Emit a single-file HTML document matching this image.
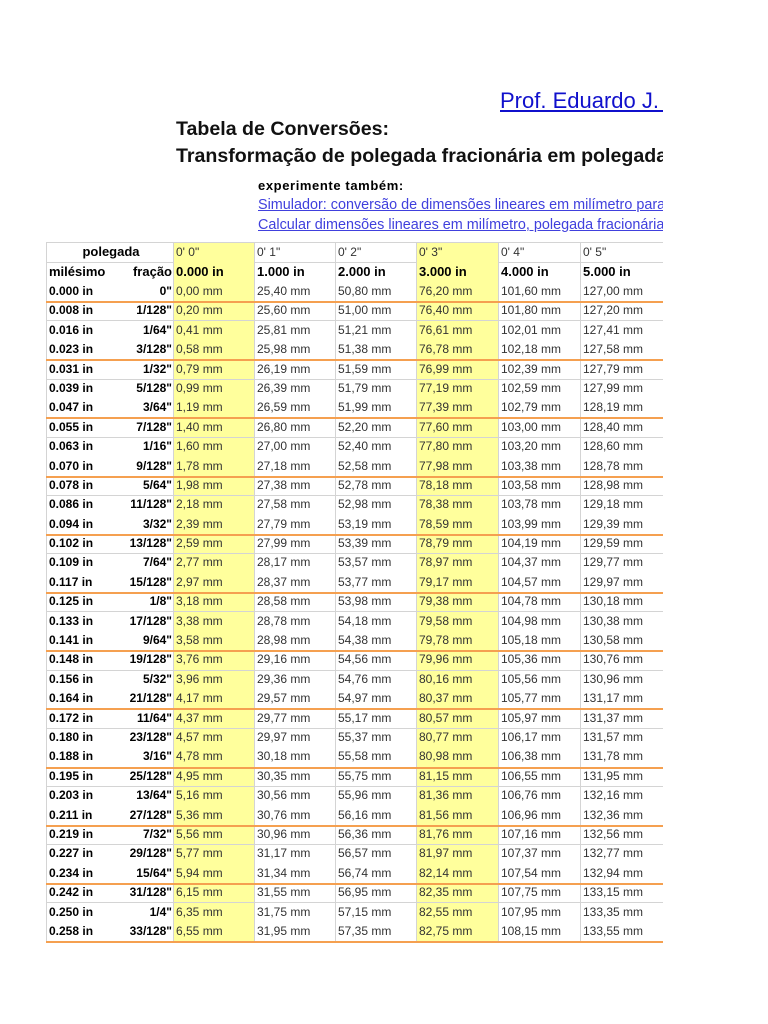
<!DOCTYPE html>
<html><head><meta charset="utf-8"><style>
body{margin:0;background:#fff;width:768px;height:1024px;position:relative;overflow:hidden;font-family:"Liberation Sans",sans-serif}
a{color:#1a1acc;text-decoration:underline}
.prof{position:absolute;left:500px;top:88px;font-size:22px;color:#1010cc;white-space:nowrap}
.t{position:absolute;left:176px;font-size:19.6px;font-weight:bold;color:#111;white-space:nowrap}
.exp{position:absolute;left:258px;top:178px;font-size:13px;font-weight:bold;letter-spacing:0.6px}
.lk{position:absolute;left:258px;font-size:14.4px;white-space:nowrap;color:#4040dd}
.clip{position:absolute;left:0;top:0;width:663px;height:260px;overflow:hidden}
#g{position:absolute;left:46px;top:242px;width:617px;overflow:hidden;display:grid;
grid-template-columns:67px 60px 81px 81px 81px 82px 82px 83px;
grid-template-rows:20px 20px repeat(34,19.4px);font-size:12px;color:#333}
#g div{box-sizing:border-box;border-left:1px solid #d4d4d4;padding-left:2px;white-space:nowrap;line-height:19px;overflow:hidden}
#g div.y{background:#ffff9c}
#g div.b{font-weight:bold;color:#000}
#g div.r{text-align:right;padding-right:1px;border-left:none}
#g div.h{border-top:1px solid #d4d4d4;line-height:18px}
#g div.p{grid-column:span 2;text-align:center}
#g div.hb{font-size:13px}
.o{position:absolute;left:46px;width:617px;height:2px;background:#f5a050}
.gl{position:absolute;left:46px;width:617px;height:1px;background:#d4d4d4}
</style></head><body>
<div class="clip">
<div class="prof"><a style="color:#1010cc">Prof. Eduardo J. Stefanelli</a></div>
<div class="t" style="top:118px">Tabela de Conversões:</div>
<div class="t" style="top:145px">Transformação de polegada fracionária em polegada milésimo e milímetro</div>
<div class="exp">experimente também:</div>
<div class="lk" style="top:197px"><a style="color:#4040dd">Simulador: conversão de dimensões lineares em milímetro para polegada</a></div>
<div class="lk" style="top:217px"><a style="color:#4040dd">Calcular dimensões lineares em milímetro, polegada fracionária e milésimo</a></div>
</div>
<div class="gl" style="top:262px"></div>
<div id="g">
<div class="b p h hb">polegada</div><div class="y h">0' 0"</div><div class="h">0' 1"</div><div class="h">0' 2"</div><div class="y h">0' 3"</div><div class="h">0' 4"</div><div class="h">0' 5"</div>
<div class="b hb">milésimo</div><div class="b r hb">fração</div><div class="y b hb">0.000 in</div><div class="b hb">1.000 in</div><div class="b hb">2.000 in</div><div class="y b hb">3.000 in</div><div class="b hb">4.000 in</div><div class="b hb">5.000 in</div>
<div class="b">0.000 in</div><div class="b r">0"</div><div class="y">0,00 mm</div><div>25,40 mm</div><div>50,80 mm</div><div class="y">76,20 mm</div><div>101,60 mm</div><div>127,00 mm</div>
<div class="b">0.008 in</div><div class="b r">1/128"</div><div class="y">0,20 mm</div><div>25,60 mm</div><div>51,00 mm</div><div class="y">76,40 mm</div><div>101,80 mm</div><div>127,20 mm</div>
<div class="b">0.016 in</div><div class="b r">1/64"</div><div class="y">0,41 mm</div><div>25,81 mm</div><div>51,21 mm</div><div class="y">76,61 mm</div><div>102,01 mm</div><div>127,41 mm</div>
<div class="b">0.023 in</div><div class="b r">3/128"</div><div class="y">0,58 mm</div><div>25,98 mm</div><div>51,38 mm</div><div class="y">76,78 mm</div><div>102,18 mm</div><div>127,58 mm</div>
<div class="b">0.031 in</div><div class="b r">1/32"</div><div class="y">0,79 mm</div><div>26,19 mm</div><div>51,59 mm</div><div class="y">76,99 mm</div><div>102,39 mm</div><div>127,79 mm</div>
<div class="b">0.039 in</div><div class="b r">5/128"</div><div class="y">0,99 mm</div><div>26,39 mm</div><div>51,79 mm</div><div class="y">77,19 mm</div><div>102,59 mm</div><div>127,99 mm</div>
<div class="b">0.047 in</div><div class="b r">3/64"</div><div class="y">1,19 mm</div><div>26,59 mm</div><div>51,99 mm</div><div class="y">77,39 mm</div><div>102,79 mm</div><div>128,19 mm</div>
<div class="b">0.055 in</div><div class="b r">7/128"</div><div class="y">1,40 mm</div><div>26,80 mm</div><div>52,20 mm</div><div class="y">77,60 mm</div><div>103,00 mm</div><div>128,40 mm</div>
<div class="b">0.063 in</div><div class="b r">1/16"</div><div class="y">1,60 mm</div><div>27,00 mm</div><div>52,40 mm</div><div class="y">77,80 mm</div><div>103,20 mm</div><div>128,60 mm</div>
<div class="b">0.070 in</div><div class="b r">9/128"</div><div class="y">1,78 mm</div><div>27,18 mm</div><div>52,58 mm</div><div class="y">77,98 mm</div><div>103,38 mm</div><div>128,78 mm</div>
<div class="b">0.078 in</div><div class="b r">5/64"</div><div class="y">1,98 mm</div><div>27,38 mm</div><div>52,78 mm</div><div class="y">78,18 mm</div><div>103,58 mm</div><div>128,98 mm</div>
<div class="b">0.086 in</div><div class="b r">11/128"</div><div class="y">2,18 mm</div><div>27,58 mm</div><div>52,98 mm</div><div class="y">78,38 mm</div><div>103,78 mm</div><div>129,18 mm</div>
<div class="b">0.094 in</div><div class="b r">3/32"</div><div class="y">2,39 mm</div><div>27,79 mm</div><div>53,19 mm</div><div class="y">78,59 mm</div><div>103,99 mm</div><div>129,39 mm</div>
<div class="b">0.102 in</div><div class="b r">13/128"</div><div class="y">2,59 mm</div><div>27,99 mm</div><div>53,39 mm</div><div class="y">78,79 mm</div><div>104,19 mm</div><div>129,59 mm</div>
<div class="b">0.109 in</div><div class="b r">7/64"</div><div class="y">2,77 mm</div><div>28,17 mm</div><div>53,57 mm</div><div class="y">78,97 mm</div><div>104,37 mm</div><div>129,77 mm</div>
<div class="b">0.117 in</div><div class="b r">15/128"</div><div class="y">2,97 mm</div><div>28,37 mm</div><div>53,77 mm</div><div class="y">79,17 mm</div><div>104,57 mm</div><div>129,97 mm</div>
<div class="b">0.125 in</div><div class="b r">1/8"</div><div class="y">3,18 mm</div><div>28,58 mm</div><div>53,98 mm</div><div class="y">79,38 mm</div><div>104,78 mm</div><div>130,18 mm</div>
<div class="b">0.133 in</div><div class="b r">17/128"</div><div class="y">3,38 mm</div><div>28,78 mm</div><div>54,18 mm</div><div class="y">79,58 mm</div><div>104,98 mm</div><div>130,38 mm</div>
<div class="b">0.141 in</div><div class="b r">9/64"</div><div class="y">3,58 mm</div><div>28,98 mm</div><div>54,38 mm</div><div class="y">79,78 mm</div><div>105,18 mm</div><div>130,58 mm</div>
<div class="b">0.148 in</div><div class="b r">19/128"</div><div class="y">3,76 mm</div><div>29,16 mm</div><div>54,56 mm</div><div class="y">79,96 mm</div><div>105,36 mm</div><div>130,76 mm</div>
<div class="b">0.156 in</div><div class="b r">5/32"</div><div class="y">3,96 mm</div><div>29,36 mm</div><div>54,76 mm</div><div class="y">80,16 mm</div><div>105,56 mm</div><div>130,96 mm</div>
<div class="b">0.164 in</div><div class="b r">21/128"</div><div class="y">4,17 mm</div><div>29,57 mm</div><div>54,97 mm</div><div class="y">80,37 mm</div><div>105,77 mm</div><div>131,17 mm</div>
<div class="b">0.172 in</div><div class="b r">11/64"</div><div class="y">4,37 mm</div><div>29,77 mm</div><div>55,17 mm</div><div class="y">80,57 mm</div><div>105,97 mm</div><div>131,37 mm</div>
<div class="b">0.180 in</div><div class="b r">23/128"</div><div class="y">4,57 mm</div><div>29,97 mm</div><div>55,37 mm</div><div class="y">80,77 mm</div><div>106,17 mm</div><div>131,57 mm</div>
<div class="b">0.188 in</div><div class="b r">3/16"</div><div class="y">4,78 mm</div><div>30,18 mm</div><div>55,58 mm</div><div class="y">80,98 mm</div><div>106,38 mm</div><div>131,78 mm</div>
<div class="b">0.195 in</div><div class="b r">25/128"</div><div class="y">4,95 mm</div><div>30,35 mm</div><div>55,75 mm</div><div class="y">81,15 mm</div><div>106,55 mm</div><div>131,95 mm</div>
<div class="b">0.203 in</div><div class="b r">13/64"</div><div class="y">5,16 mm</div><div>30,56 mm</div><div>55,96 mm</div><div class="y">81,36 mm</div><div>106,76 mm</div><div>132,16 mm</div>
<div class="b">0.211 in</div><div class="b r">27/128"</div><div class="y">5,36 mm</div><div>30,76 mm</div><div>56,16 mm</div><div class="y">81,56 mm</div><div>106,96 mm</div><div>132,36 mm</div>
<div class="b">0.219 in</div><div class="b r">7/32"</div><div class="y">5,56 mm</div><div>30,96 mm</div><div>56,36 mm</div><div class="y">81,76 mm</div><div>107,16 mm</div><div>132,56 mm</div>
<div class="b">0.227 in</div><div class="b r">29/128"</div><div class="y">5,77 mm</div><div>31,17 mm</div><div>56,57 mm</div><div class="y">81,97 mm</div><div>107,37 mm</div><div>132,77 mm</div>
<div class="b">0.234 in</div><div class="b r">15/64"</div><div class="y">5,94 mm</div><div>31,34 mm</div><div>56,74 mm</div><div class="y">82,14 mm</div><div>107,54 mm</div><div>132,94 mm</div>
<div class="b">0.242 in</div><div class="b r">31/128"</div><div class="y">6,15 mm</div><div>31,55 mm</div><div>56,95 mm</div><div class="y">82,35 mm</div><div>107,75 mm</div><div>133,15 mm</div>
<div class="b">0.250 in</div><div class="b r">1/4"</div><div class="y">6,35 mm</div><div>31,75 mm</div><div>57,15 mm</div><div class="y">82,55 mm</div><div>107,95 mm</div><div>133,35 mm</div>
<div class="b">0.258 in</div><div class="b r">33/128"</div><div class="y">6,55 mm</div><div>31,95 mm</div><div>57,35 mm</div><div class="y">82,75 mm</div><div>108,15 mm</div><div>133,55 mm</div>
</div>
<div class="gl" style="top:320px"></div>
<div class="gl" style="top:379px"></div>
<div class="gl" style="top:437px"></div>
<div class="gl" style="top:495px"></div>
<div class="gl" style="top:553px"></div>
<div class="gl" style="top:611px"></div>
<div class="gl" style="top:670px"></div>
<div class="gl" style="top:728px"></div>
<div class="gl" style="top:786px"></div>
<div class="gl" style="top:844px"></div>
<div class="gl" style="top:902px"></div>
<div class="o" style="top:301px"></div>
<div class="o" style="top:359px"></div>
<div class="o" style="top:417px"></div>
<div class="o" style="top:476px"></div>
<div class="o" style="top:534px"></div>
<div class="o" style="top:592px"></div>
<div class="o" style="top:650px"></div>
<div class="o" style="top:708px"></div>
<div class="o" style="top:767px"></div>
<div class="o" style="top:825px"></div>
<div class="o" style="top:883px"></div>
<div class="o" style="top:941px"></div>
</body></html>
